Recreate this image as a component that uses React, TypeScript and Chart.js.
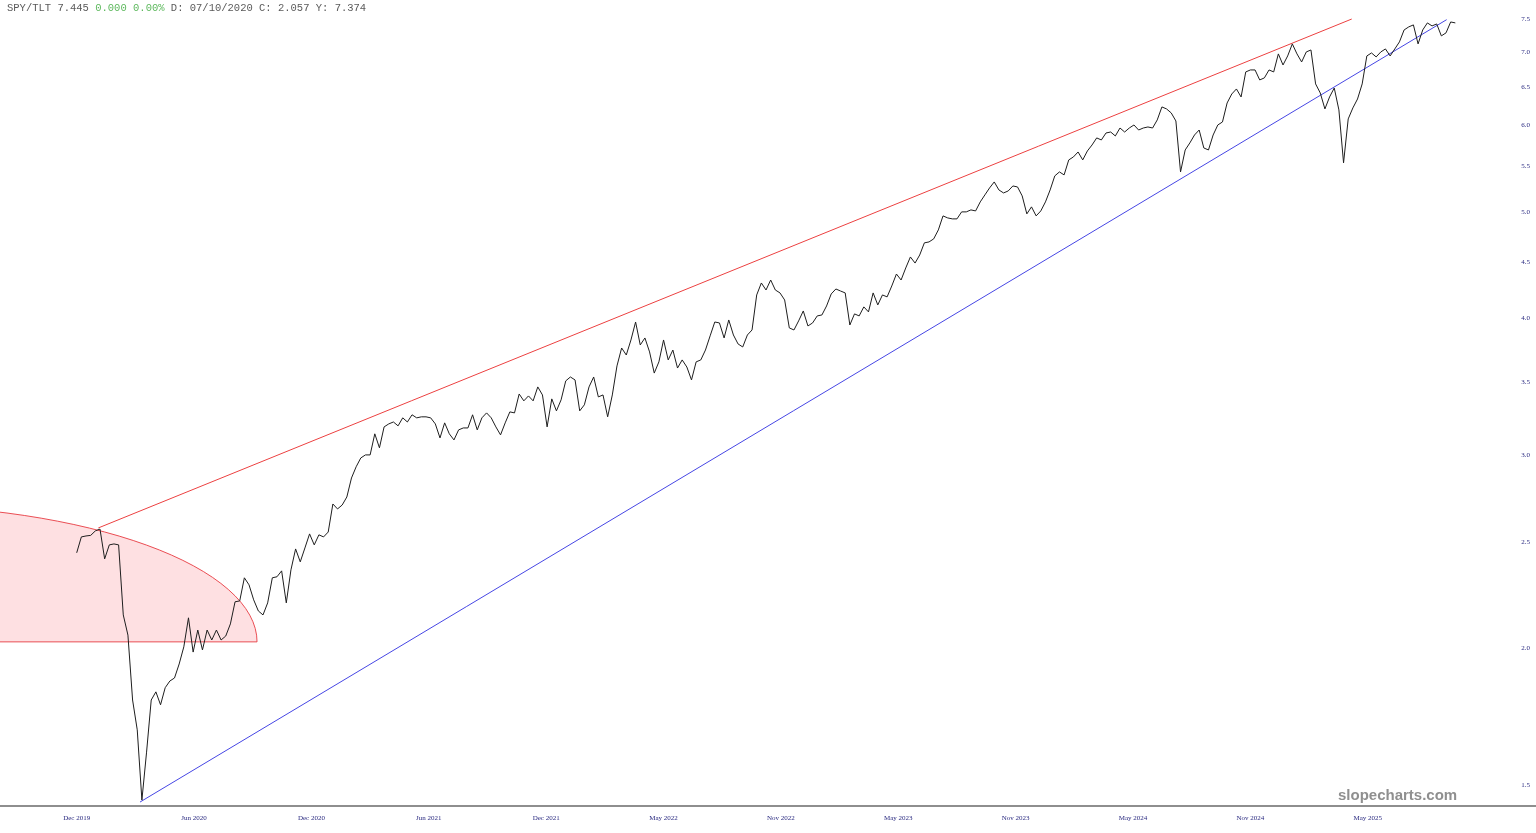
import { useEffect, useRef } from "react";
import { Chart, registerables } from "chart.js";

Chart.register(...registerables);

// SPY/TLT ratio, one reading every 5 trading sessions starting Dec 2019
const SESSION_STEP = 5;
const ratio = [
  2.443, 2.526, 2.531, 2.534, 2.558, 2.568, 2.412, 2.484, 2.489, 2.484,
  2.144, 2.055, 1.793, 1.684, 1.453, 1.607, 1.793, 1.824, 1.775, 1.840,
  1.866, 1.878, 1.934, 2.005, 2.131, 1.983, 2.077, 1.992, 2.077, 2.034,
  2.077, 2.034, 2.051, 2.104, 2.204, 2.208, 2.318, 2.284, 2.213, 2.162,
  2.144, 2.199, 2.318, 2.323, 2.352, 2.199, 2.357, 2.463, 2.397, 2.468,
  2.542, 2.484, 2.537, 2.526, 2.552, 2.707, 2.679, 2.701, 2.747, 2.859,
  2.927, 2.982, 3.001, 3.001, 3.137, 3.046, 3.183, 3.203, 3.216, 3.190,
  3.244, 3.216, 3.265, 3.244, 3.251, 3.251, 3.244, 3.203, 3.110, 3.210,
  3.137, 3.097, 3.163, 3.176, 3.176, 3.265, 3.163, 3.244, 3.278, 3.244,
  3.183, 3.130, 3.210, 3.285, 3.278, 3.411, 3.362, 3.397, 3.362, 3.462,
  3.404, 3.183, 3.376, 3.292, 3.369, 3.506, 3.535, 3.513, 3.292, 3.334,
  3.462, 3.535, 3.390, 3.404, 3.251, 3.404, 3.618, 3.757, 3.702, 3.821,
  3.968, 3.781, 3.837, 3.726, 3.564, 3.649, 3.821, 3.664, 3.741, 3.602,
  3.664, 3.610, 3.513, 3.649, 3.664, 3.741, 3.854, 3.968, 3.960, 3.837,
  3.985, 3.861, 3.789, 3.765, 3.861, 3.902, 4.200, 4.307, 4.244, 4.334,
  4.244, 4.218, 4.156, 3.919, 3.902, 3.977, 4.061, 3.935, 3.960, 4.019,
  4.027, 4.104, 4.209, 4.253, 4.235, 4.218, 3.943, 4.036, 4.019, 4.096,
  4.053, 4.218, 4.113, 4.200, 4.183, 4.280, 4.389, 4.334, 4.445, 4.549,
  4.491, 4.568, 4.686, 4.695, 4.725, 4.815, 4.959, 4.938, 4.928, 4.928,
  5.001, 5.001, 5.022, 5.011, 5.107, 5.183, 5.259, 5.326, 5.237, 5.204,
  5.226, 5.281, 5.270, 5.172, 4.980, 5.054, 4.959, 5.011, 5.107, 5.237,
  5.394, 5.439, 5.405, 5.578, 5.613, 5.672, 5.578, 5.684, 5.756, 5.842,
  5.817, 5.903, 5.915, 5.866, 5.965, 5.915, 5.965, 6.003, 5.940, 5.965,
  5.978, 5.965, 6.067, 6.235, 6.209, 6.157, 6.054, 5.439, 5.696, 5.781,
  5.878, 5.940, 5.720, 5.696, 5.878, 6.003, 6.041, 6.287, 6.407, 6.475,
  6.367, 6.711, 6.739, 6.739, 6.599, 6.627, 6.739, 6.711, 6.970, 6.810,
  6.940, 7.118, 6.970, 6.853, 6.999, 7.028, 6.544, 6.421, 6.209, 6.367,
  6.488, 6.196, 5.544, 6.080, 6.222, 6.340, 6.544, 6.940, 6.984, 6.926,
  6.999, 7.043, 6.940, 7.043, 7.148, 7.330, 7.377, 7.408, 7.118, 7.330,
  7.439, 7.392, 7.423, 7.239, 7.285, 7.454, 7.439,
];

// x-axis labels, one every 126 sessions
const tickSessions = [0, 126, 252, 378, 504, 630, 756, 882, 1008, 1134, 1260, 1386];
const tickLabels = [
  "Dec 2019", "Jun 2020", "Dec 2020", "Jun 2021", "Dec 2021", "May 2022",
  "Nov 2022", "May 2023", "Nov 2023", "May 2024", "Nov 2024", "May 2025",
];
const yTicks = [1.5, 2.0, 2.5, 3.0, 3.5, 4.0, 4.5, 5.0, 5.5, 6.0, 6.5, 7.0, 7.5];

// trendlines: [session, value]
const resistanceSessions = [23.2, 1368.8];
const resistanceValues = [2.574, 7.5];
const supportSessions = [68.0, 1470.7];
const supportValues = [1.447, 7.49];

// elliptical arc annotation: [center, right edge] sessions and [center, top] values
const arcSessions = [-211.2, 193.6];
const arcValues = [2.026, 2.701];

const X_MIN = -82.34;
const X_MAX = 1566.6;
const Y_MIN = 1.435;
const Y_MAX = 7.806;

const arcPlugin = {
  id: "arcAnnotation",
  beforeDatasetsDraw(chart: any) {
    const { ctx, scales, chartArea } = chart;
    const xs = scales.x;
    const ys = scales.y;
    const cx = xs.getPixelForValue(arcSessions[0]);
    const rxEnd = xs.getPixelForValue(arcSessions[1]);
    const cy = ys.getPixelForValue(arcValues[0]);
    const top = ys.getPixelForValue(arcValues[1]);
    const rx = rxEnd - cx;
    const ry = cy - top;
    ctx.save();
    ctx.beginPath();
    ctx.rect(chartArea.left, chartArea.top, chartArea.right - chartArea.left, chartArea.bottom - chartArea.top);
    ctx.clip();
    ctx.beginPath();
    ctx.moveTo(cx, cy);
    ctx.ellipse(cx, cy, rx, ry, 0, -Math.PI / 2, 0);
    ctx.closePath();
    ctx.fillStyle = "rgba(250, 100, 110, 0.2)";
    ctx.fill();
    ctx.beginPath();
    ctx.ellipse(cx, cy, rx, ry, 0, -Math.PI / 2, 0);
    ctx.lineTo(cx, cy);
    ctx.strokeStyle = "rgba(232, 60, 66, 0.9)";
    ctx.lineWidth = 1;
    ctx.stroke();
    ctx.restore();
  },
};

const tickFont = { family: "'Liberation Serif', 'Times New Roman', serif", size: 7 };
const tickColor = "#2a2a80";

export default function App() {
  const canvasRef = useRef<HTMLCanvasElement | null>(null);

  useEffect(() => {
    document.body.style.margin = "0";
    const canvas = canvasRef.current;
    if (!canvas) return;
    const priceData = ratio.map((v, i) => ({ x: i * SESSION_STEP, y: v }));
    const resData = resistanceSessions.map((s, i) => ({ x: s, y: resistanceValues[i] }));
    const supData = supportSessions.map((s, i) => ({ x: s, y: supportValues[i] }));

    const chart = new Chart(canvas, {
      type: "line",
      data: {
        datasets: [
          {
            label: "SPY/TLT",
            data: priceData,
            borderColor: "#1e1e1e",
            borderWidth: 1,
            pointRadius: 0,
            tension: 0,
          },
          {
            label: "Resistance",
            data: resData,
            borderColor: "rgba(236, 64, 64, 1)",
            borderWidth: 1,
            pointRadius: 0,
          },
          {
            label: "Support",
            data: supData,
            borderColor: "rgba(70, 70, 228, 1)",
            borderWidth: 1,
            pointRadius: 0,
          },
        ],
      },
      options: {
        animation: false,
        responsive: false,
        devicePixelRatio: 1,
        events: [],
        layout: { padding: 0 },
        plugins: {
          legend: { display: false },
          tooltip: { enabled: false },
          title: { display: false },
        },
        scales: {
          x: {
            type: "linear",
            min: X_MIN,
            max: X_MAX,
            grid: { display: false, drawTicks: false },
            border: { display: true, color: "#8e8e8e", width: 2 },
            afterBuildTicks: (s: any) => {
              s.ticks = tickSessions.map((v) => ({ value: v }));
            },
            afterFit: (s: any) => {
              s.height = 27;
            },
            ticks: {
              autoSkip: false,
              maxRotation: 0,
              padding: 8,
              font: tickFont,
              color: tickColor,
              callback: (value: any) => {
                const i = tickSessions.indexOf(Number(value));
                return i >= 0 ? tickLabels[i] : "";
              },
            },
          },
          y: {
            type: "logarithmic",
            position: "right",
            min: Y_MIN,
            max: Y_MAX,
            grid: { display: false, drawTicks: false },
            border: { display: false },
            afterBuildTicks: (s: any) => {
              s.ticks = yTicks.map((v) => ({ value: v }));
            },
            afterFit: (s: any) => {
              s.width = 0;
            },
            ticks: {
              mirror: true,
              padding: -6,
              font: tickFont,
              color: tickColor,
              callback: (value: any) => Number(value).toFixed(1),
            },
          },
        },
      },
      plugins: [arcPlugin],
    });
    return () => chart.destroy();
  }, []);

  return (
    <div style={{ position: "relative", width: 1536, height: 833, background: "#fff", overflow: "hidden" }}>
      <canvas ref={canvasRef} width={1536} height={833} style={{ width: 1536, height: 833, display: "block" }} />
      <div
        style={{
          position: "absolute",
          left: 7,
          top: 3,
          fontFamily: "'Liberation Mono', 'DejaVu Sans Mono', monospace",
          fontSize: 10.5,
          lineHeight: "11px",
          color: "#5a5a5a",
          whiteSpace: "pre",
        }}
      >
        {"SPY/TLT 7.445 "}
        <span style={{ color: "#5cb85c" }}>{"0.000 0.00%"}</span>
        {" D: 07/10/2020 C: 2.057 Y: 7.374"}
      </div>
      <div
        style={{
          position: "absolute",
          left: 1338,
          top: 787,
          fontFamily: "'Liberation Sans', Arial, sans-serif",
          fontWeight: "bold",
          fontSize: 15,
          lineHeight: "16px",
          color: "#8f8f8f",
        }}
      >
        slopecharts.com
      </div>
    </div>
  );
}
